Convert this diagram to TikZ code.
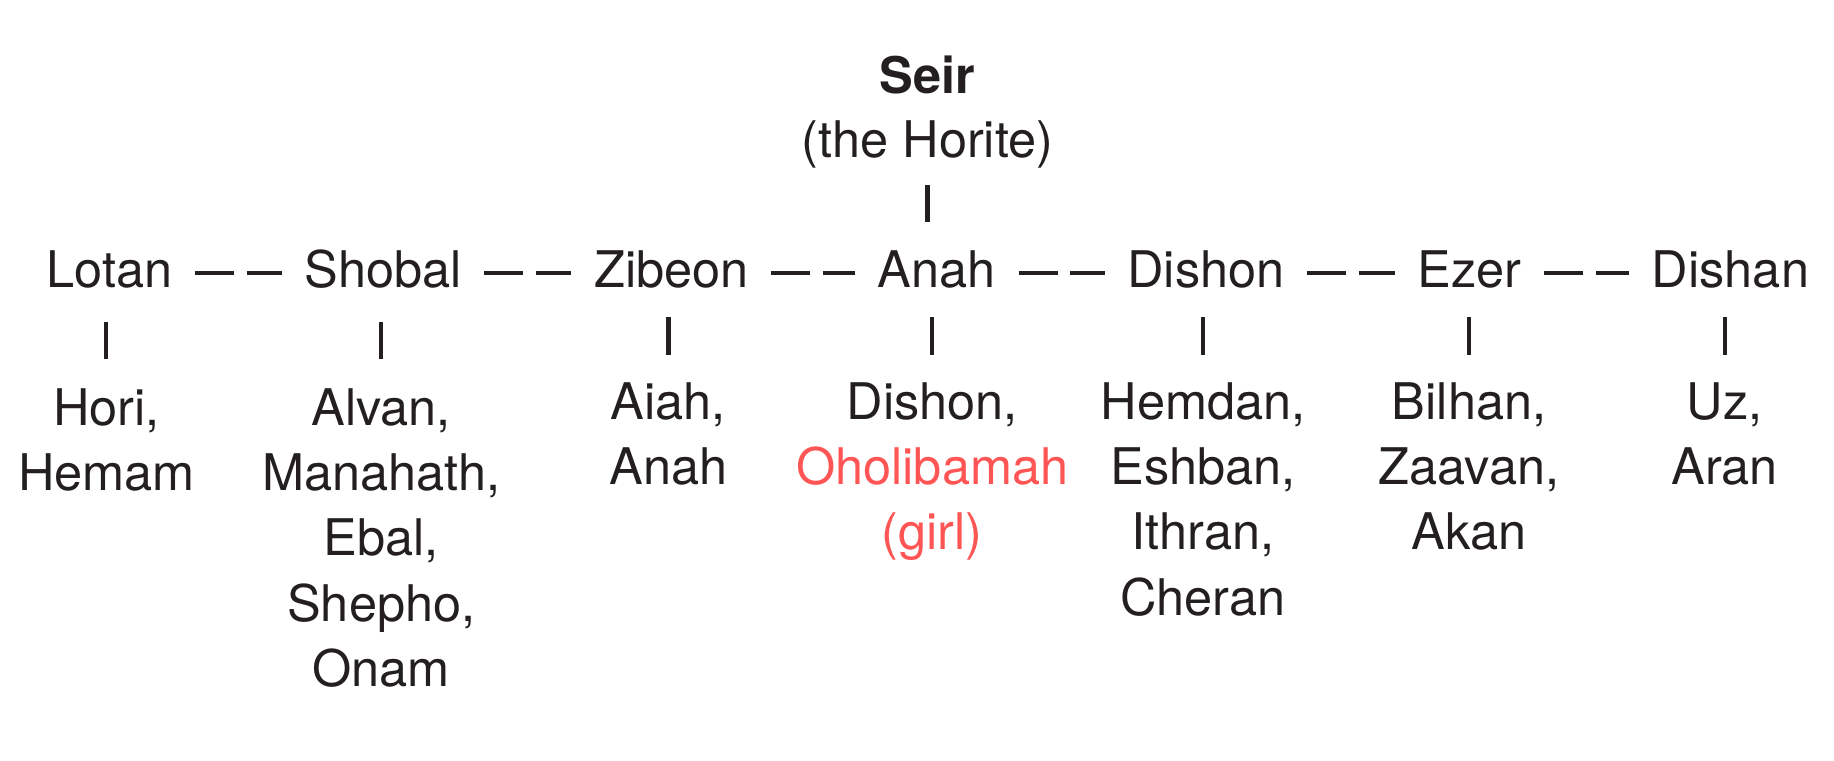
\documentclass[tikz,border=0pt]{standalone}
\usepackage{fontspec}
\setmainfont{TeX Gyre Heros}
\usetikzlibrary{calc}
\definecolor{ink}{HTML}{231F20}
\definecolor{girlred}{HTML}{FF5555}
\begin{document}
\begin{tikzpicture}[x=0.6pt,y=-0.6pt,
  every node/.style={inner sep=0pt,outer sep=0pt,text=ink,font=\fontsize{25.9}{33.5}\selectfont},
  person/.style={anchor=base},
  kids/.style={anchor=north,align=center},
  bar/.style={draw=ink,line width=2.1pt},
  sib/.style={draw=ink,line width=1.7pt,dash pattern=on 20pt off 6.5pt}]
\useasboundingbox (0,0) rectangle (1568,650);
% top
\node[person] (seir) at (793,80) {\bfseries Seir};
\node[person] (horite) at (793,135) {(the Horite)};
% sons
\node[person] (lotan)  at (93.5,246) {Lotan};
\node[person] (shobal) at (327.5,246) {Shobal};
\node[person] (zibeon) at (574,246) {Zibeon};
\node[person] (anah)   at (801,246) {Anah};
\node[person] (dishon) at (1031,246) {Dishon};
\node[person] (ezer)   at (1256.5,246) {Ezer};
\node[person] (dishan) at (1479.5,246) {Dishan};
% grandchildren
\node[kids] (kLotan)  at (91,332)   {Hori,\\Hemam};
\node[kids] (kShobal) at (326,332)  {Alvan,\\Manahath,\\Ebal,\\Shepho,\\Onam};
\node[kids] (kZibeon) at (571.5,327) {Aiah,\\Anah};
\node[kids] (kAnah)   at (797,327)  {Dishon,\\\textcolor{girlred}{Oholibamah}\\\textcolor{girlred}{(girl)}};
\node[kids] (kDishon) at (1028.5,327) {Hemdan,\\Eshban,\\Ithran,\\Cheran};
\node[kids] (kEzer)   at (1256,327) {Bilhan,\\Zaavan,\\Akan};
\node[kids] (kDishan) at (1474.5,327) {Uz,\\Aran};
% Seir to Anah
\draw[bar] ($(horite.base)+(0,23)$) -- ($(horite.base |- anah.base)+(0,-56)$);
% sibling links
\draw[sib] ($(lotan.base east)+(19.5,-12.5)$) -- ($(shobal.base west)+(-19.5,-12.5)$);
\draw[sib] ($(shobal.base east)+(19.5,-12.5)$) -- ($(zibeon.base west)+(-19.5,-12.5)$);
\draw[sib] ($(zibeon.base east)+(19.5,-12.5)$) -- ($(anah.base west)+(-19.5,-12.5)$);
\draw[sib] ($(anah.base east)+(19.5,-12.5)$) -- ($(dishon.base west)+(-19.5,-12.5)$);
\draw[sib] ($(dishon.base east)+(19.5,-12.5)$) -- ($(ezer.base west)+(-19.5,-12.5)$);
\draw[sib] ($(ezer.base east)+(19.5,-12.5)$) -- ($(dishan.base west)+(-19.5,-12.5)$);
% parent to children bars
\draw[bar] ($(kLotan.north |- lotan.base)+(0,29.6)$) -- ($(kLotan.north)+(0,-24.8)$);
\draw[bar] ($(kShobal.north |- shobal.base)+(0,29.6)$) -- ($(kShobal.north)+(0,-24.8)$);
\draw[bar] ($(kZibeon.north |- zibeon.base)+(0,25)$) -- ($(kZibeon.north)+(0,-23.5)$);
\draw[bar] ($(kAnah.north |- anah.base)+(0,25)$) -- ($(kAnah.north)+(0,-23.5)$);
\draw[bar] ($(kDishon.north |- dishon.base)+(0,25)$) -- ($(kDishon.north)+(0,-23.5)$);
\draw[bar] ($(kEzer.north |- ezer.base)+(0,25)$) -- ($(kEzer.north)+(0,-23.5)$);
\draw[bar] ($(kDishan.north |- dishan.base)+(0,25)$) -- ($(kDishan.north)+(0,-23.5)$);
\end{tikzpicture}
\end{document}
